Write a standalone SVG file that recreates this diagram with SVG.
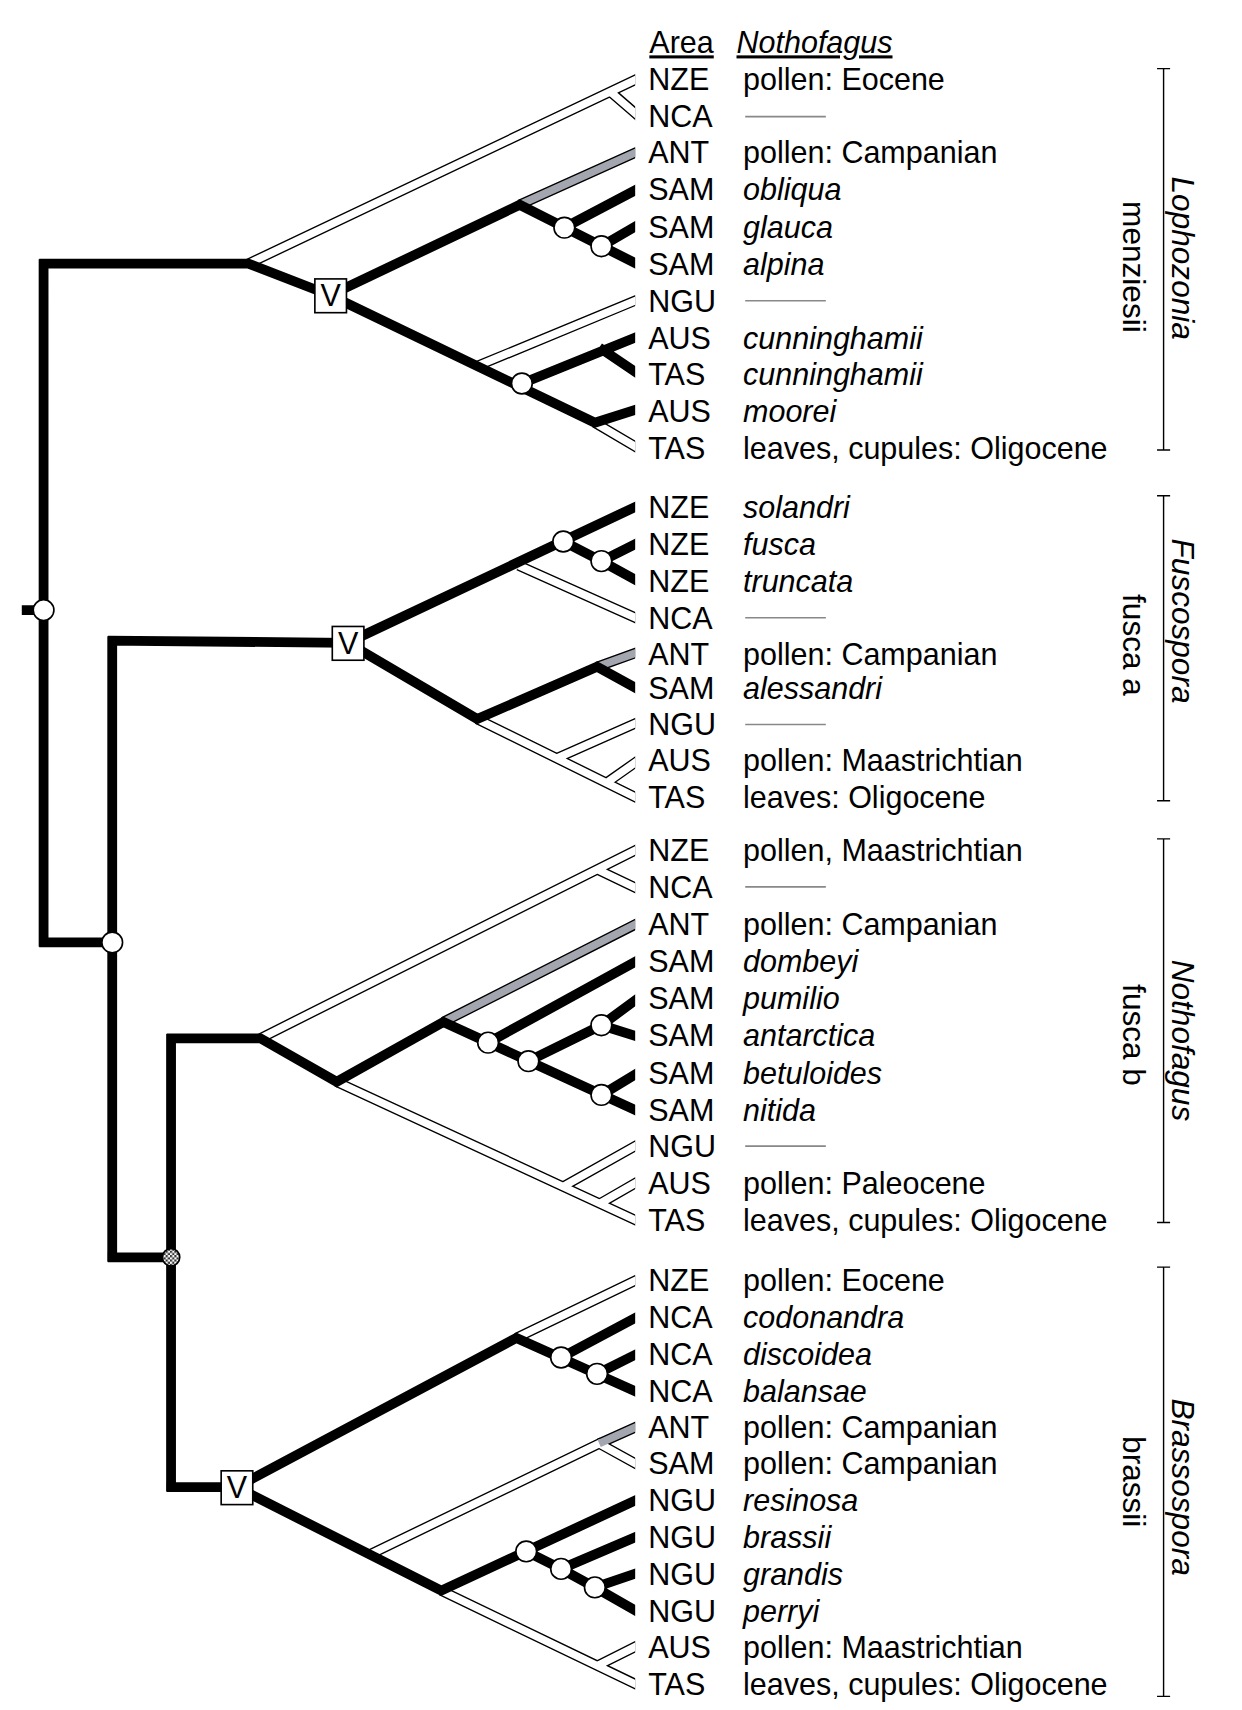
<svg xmlns="http://www.w3.org/2000/svg" width="1242" height="1710" viewBox="0 0 1242 1710">
<style>
.thk{stroke:#000;stroke-width:9;fill:none;stroke-linejoin:miter}
.wo{stroke:#000;stroke-width:9.5;fill:none}
.wi{stroke:#fff;stroke-width:7;fill:none}
.gi{stroke:#a3a6ae;stroke-width:7;fill:none}
.c{fill:#fff;stroke:#000;stroke-width:1.5}
.t{font-family:"Liberation Sans",Arial,sans-serif;font-size:28px;fill:#000}
.i{font-style:italic}
.dash{stroke:#888;stroke-width:1.5}
.br{stroke:#000;stroke-width:1.3;fill:none}
.rt{font-family:"Liberation Sans",Arial,sans-serif;font-size:29px;fill:#000;text-anchor:middle}
</style>
<defs>
<clipPath id="cl"><rect x="0" y="0" width="583" height="1600"/></clipPath>
<pattern id="chk" width="4" height="4" patternUnits="userSpaceOnUse"><rect width="4" height="4" fill="#fff"/><rect width="2" height="2" fill="#333"/><rect x="2" y="2" width="2" height="2" fill="#333"/></pattern>
</defs>
<rect width="1242" height="1710" fill="#fff"/>
<g transform="scale(1.0895)">
<g id="connectors" clip-path="url(#cl)">
<path class="wo" d="M228,242 L590,70 M560,84 L590,110 M438,336 L590,273 M546,388 L590,414 M476,519 L590,570 M438,660 L590,735 M511,696 L590,661 M556,719 L590,695 M239,953 L590,777 M548,798 L590,818 M309,993 L590,1123 M517,1089 L590,1048 M550,1105 L590,1082 M474,1228 L590,1172 M339,1427 L550,1325 L590,1347 M405,1460 L590,1549 M548,1529 L590,1508"/>
<path class="wo" d="M477,188 L590,137 M548,612 L590,597 M407,938 L590,845 M550,1325 L590,1307"/>
<path class="wi" d="M228,242 L590,70 M560,84 L590,110 M438,336 L590,273 M546,388 L590,414 M476,519 L590,570 M438,660 L590,735 M511,696 L590,661 M556,719 L590,695 M239,953 L590,777 M548,798 L590,818 M309,993 L590,1123 M517,1089 L590,1048 M550,1105 L590,1082 M474,1228 L590,1172 M339,1427 L550,1325 L590,1347 M405,1460 L590,1549 M548,1529 L590,1508"/>
<path class="gi" d="M477,188 L590,137 M548,612 L590,597 M407,938 L590,845 M550,1325 L590,1307"/>
<path class="thk" d="M20,560 L40,560 M40,238 L40,869 M36,242 L228,242 L303,271 L477,188 L590,245 M518,209 L590,171 M552,226 L590,204 M303,271 L546,388 L590,374 M479,352 L590,307 M550,319 L590,346"/>
<path class="thk" d="M36,865 L103,865 M103,584 L103,1158 M99,588 L319,590 L590,462 M517,497 L552,515 L590,536 M552,515 L590,496 M319,590 L438,660 L548,612 L590,635"/>
<path class="thk" d="M99,1154 L157,1154 M157,949 L157,1369 M153,953 L239,953 L309,993 L407,938 L590,1022 M448,957 L590,879 M485,974 L552,941 L590,913 M552,941 L590,953 M552,1005 L590,982"/>
<path class="thk" d="M153,1365 L217,1365 L474,1228 L590,1280 M515,1246 L590,1206 M548,1261 L590,1240 M217,1365 L405,1460 L590,1374 M483,1424 L515,1440 L546,1457 L590,1482 M515,1440 L590,1408 M546,1457 L590,1442"/>
</g>
<g id="nodes">
<circle id="n-root" class="c" cx="40" cy="560" r="9.5"/>
<circle id="n-2" class="c" cx="103" cy="865" r="9.5"/>
<circle id="n-3" class="c" cx="157" cy="1154" r="8" style="fill:url(#chk)"/>
<g id="v1"><rect class="c" x="289" y="256" width="29" height="31"/><text class="t" x="303.5" y="281" text-anchor="middle" font-size="26">V</text></g>
<g id="v2"><rect class="c" x="305" y="575" width="29" height="31"/><text class="t" x="319.5" y="600" text-anchor="middle" font-size="26">V</text></g>
<g id="v4"><rect class="c" x="203" y="1350" width="29" height="31"/><text class="t" x="217.5" y="1375" text-anchor="middle" font-size="26">V</text></g>
<circle class="c" cx="518" cy="209" r="9.5"/><circle class="c" cx="552" cy="226" r="9.5"/><circle class="c" cx="479" cy="352" r="9.5"/>
<circle class="c" cx="517" cy="497" r="9.5"/><circle class="c" cx="552" cy="515" r="9.5"/>
<circle class="c" cx="448" cy="957" r="9.5"/><circle class="c" cx="485" cy="974" r="9.5"/><circle class="c" cx="552" cy="941" r="9.5"/><circle class="c" cx="552" cy="1005" r="9.5"/>
<circle class="c" cx="515" cy="1246" r="9.5"/><circle class="c" cx="548" cy="1261" r="9.5"/>
<circle class="c" cx="483" cy="1424" r="9.5"/><circle class="c" cx="515" cy="1440" r="9.5"/><circle class="c" cx="546" cy="1457" r="9.5"/>
</g>
<g id="labels">
<text class="t" x="596" y="49" text-decoration="underline">Area</text>
<text class="t i" x="676" y="49" text-decoration="underline">Nothofagus</text>
<g class="t">
<text x="595" y="83">NZE</text><text x="682" y="83">pollen: Eocene</text>
<text x="595" y="117">NCA</text>
<text x="595" y="150">ANT</text><text x="682" y="150">pollen: Campanian</text>
<text x="595" y="184">SAM</text><text class="i" x="682" y="184">obliqua</text>
<text x="595" y="218">SAM</text><text class="i" x="682" y="218">glauca</text>
<text x="595" y="252">SAM</text><text class="i" x="682" y="252">alpina</text>
<text x="595" y="286">NGU</text>
<text x="595" y="320">AUS</text><text class="i" x="682" y="320">cunninghamii</text>
<text x="595" y="353">TAS</text><text class="i" x="682" y="353">cunninghamii</text>
<text x="595" y="387">AUS</text><text class="i" x="682" y="387">moorei</text>
<text x="595" y="421">TAS</text><text x="682" y="421">leaves, cupules: Oligocene</text>

<text x="595" y="475">NZE</text><text class="i" x="682" y="475">solandri</text>
<text x="595" y="509">NZE</text><text class="i" x="682" y="509">fusca</text>
<text x="595" y="543">NZE</text><text class="i" x="682" y="543">truncata</text>
<text x="595" y="577">NCA</text>
<text x="595" y="610">ANT</text><text x="682" y="610">pollen: Campanian</text>
<text x="595" y="642">SAM</text><text class="i" x="682" y="642">alessandri</text>
<text x="595" y="675">NGU</text>
<text x="595" y="708">AUS</text><text x="682" y="708">pollen: Maastrichtian</text>
<text x="595" y="742">TAS</text><text x="682" y="742">leaves: Oligocene</text>

<text x="595" y="790">NZE</text><text x="682" y="790">pollen, Maastrichtian</text>
<text x="595" y="824">NCA</text>
<text x="595" y="858">ANT</text><text x="682" y="858">pollen: Campanian</text>
<text x="595" y="892">SAM</text><text class="i" x="682" y="892">dombeyi</text>
<text x="595" y="926">SAM</text><text class="i" x="682" y="926">pumilio</text>
<text x="595" y="960">SAM</text><text class="i" x="682" y="960">antarctica</text>
<text x="595" y="995">SAM</text><text class="i" x="682" y="995">betuloides</text>
<text x="595" y="1029">SAM</text><text class="i" x="682" y="1029">nitida</text>
<text x="595" y="1062">NGU</text>
<text x="595" y="1096">AUS</text><text x="682" y="1096">pollen: Paleocene</text>
<text x="595" y="1130">TAS</text><text x="682" y="1130">leaves, cupules: Oligocene</text>

<text x="595" y="1185">NZE</text><text x="682" y="1185">pollen: Eocene</text>
<text x="595" y="1219">NCA</text><text class="i" x="682" y="1219">codonandra</text>
<text x="595" y="1253">NCA</text><text class="i" x="682" y="1253">discoidea</text>
<text x="595" y="1287">NCA</text><text class="i" x="682" y="1287">balansae</text>
<text x="595" y="1320">ANT</text><text x="682" y="1320">pollen: Campanian</text>
<text x="595" y="1353">SAM</text><text x="682" y="1353">pollen: Campanian</text>
<text x="595" y="1387">NGU</text><text class="i" x="682" y="1387">resinosa</text>
<text x="595" y="1421">NGU</text><text class="i" x="682" y="1421">brassii</text>
<text x="595" y="1455">NGU</text><text class="i" x="682" y="1455">grandis</text>
<text x="595" y="1489">NGU</text><text class="i" x="682" y="1489">perryi</text>
<text x="595" y="1522">AUS</text><text x="682" y="1522">pollen: Maastrichtian</text>
<text x="595" y="1556">TAS</text><text x="682" y="1556">leaves, cupules: Oligocene</text>
</g>
<path class="dash" d="M684,107 L758,107 M684,276 L758,276 M684,567 L758,567 M684,665 L758,665 M684,814 L758,814 M684,1052 L758,1052"/>
</g>
<g id="brackets">
<path class="br" d="M1062,63 L1074,63 M1068,63 L1068,413 M1062,413 L1074,413"/>
<path class="br" d="M1062,455 L1074,455 M1068,455 L1068,735 M1062,735 L1074,735"/>
<path class="br" d="M1062,770 L1074,770 M1068,770 L1068,1122 M1062,1122 L1074,1122"/>
<path class="br" d="M1062,1163 L1074,1163 M1068,1163 L1068,1557 M1062,1557 L1074,1557"/>
<text class="rt i" x="1076" y="237" transform="rotate(90 1076 237)">Lophozonia</text>
<text class="rt" x="1031" y="245" transform="rotate(90 1031 245)">menziesii</text>
<text class="rt i" x="1076" y="570" transform="rotate(90 1076 570)">Fuscospora</text>
<text class="rt" x="1031" y="592" transform="rotate(90 1031 592)">fusca a</text>
<text class="rt i" x="1076" y="955" transform="rotate(90 1076 955)">Nothofagus</text>
<text class="rt" x="1031" y="950" transform="rotate(90 1031 950)">fusca b</text>
<text class="rt i" x="1076" y="1365" transform="rotate(90 1076 1365)">Brassospora</text>
<text class="rt" x="1031" y="1360" transform="rotate(90 1031 1360)">brassii</text>
</g>
</g>
</svg>
